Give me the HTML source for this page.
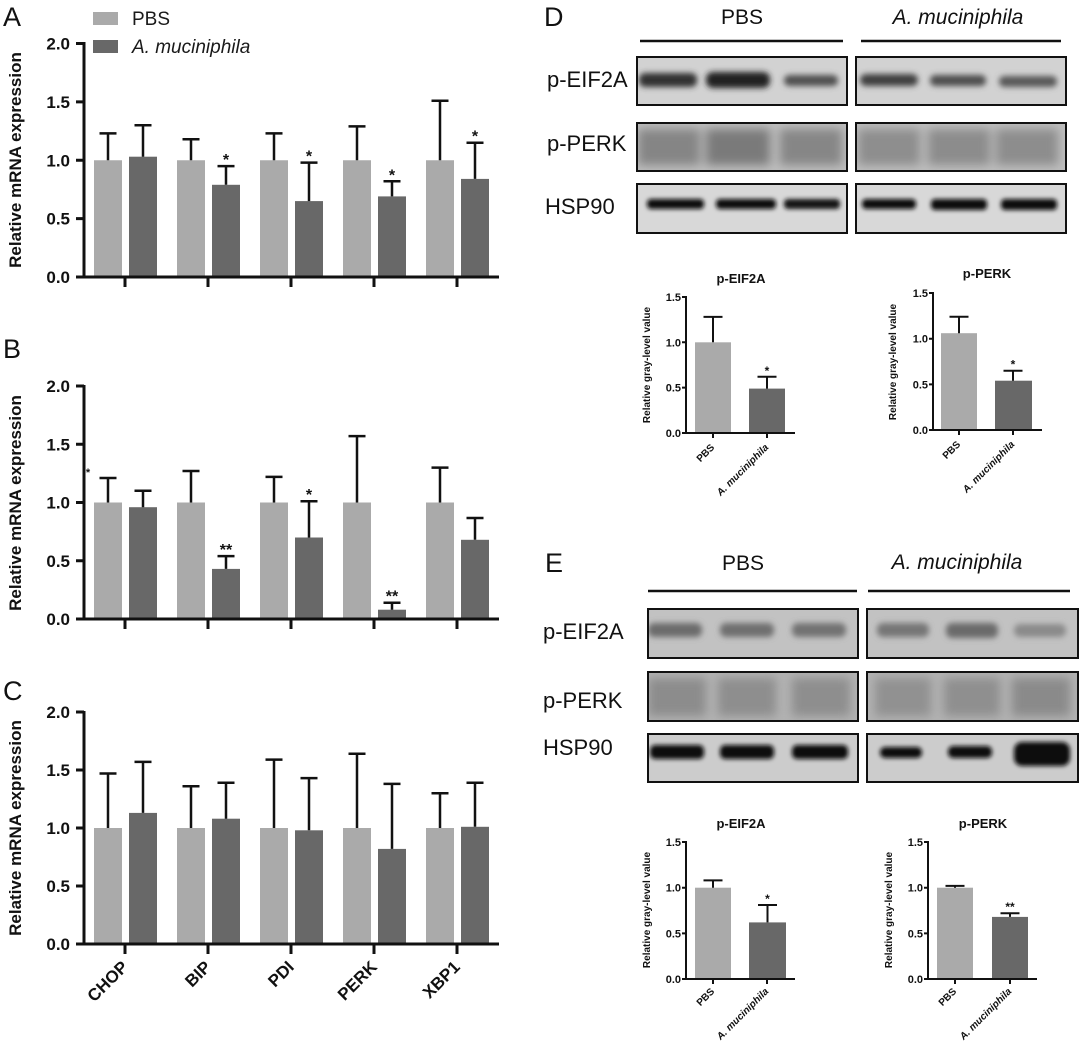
<!DOCTYPE html>
<html><head><meta charset="utf-8"><style>
html,body{margin:0;padding:0;background:#fff;}
svg{display:block;}
text{font-family:"Liberation Sans",Arial,sans-serif;fill:#111;}
.b{font-weight:bold;}
.ax{stroke:#111;stroke-width:3;fill:none;}
.ax2{stroke:#111;stroke-width:2;fill:none;}
.eb{stroke:#111;stroke-width:2.5;fill:none;}
.eb2{stroke:#111;stroke-width:2;fill:none;}
.l{fill:#aaaaaa;}
.d{fill:#686868;}
.box{fill:none;stroke:#111;stroke-width:2;}
</style></head><body>
<svg width="1080" height="1044" viewBox="0 0 1080 1044" xmlns="http://www.w3.org/2000/svg">
<defs>
<filter id="f2" x="-50%" y="-100%" width="200%" height="300%"><feGaussianBlur stdDeviation="2"/></filter>
<filter id="f3" x="-50%" y="-100%" width="200%" height="300%"><feGaussianBlur stdDeviation="3"/></filter>
<filter id="f5" x="-50%" y="-100%" width="200%" height="300%"><feGaussianBlur stdDeviation="5"/></filter>
<clipPath id="cD1L"><rect x="637" y="57" width="210" height="48"/></clipPath>
<clipPath id="cD1R"><rect x="856" y="57" width="210" height="48"/></clipPath>
<clipPath id="cD2L"><rect x="637" y="123" width="210" height="48"/></clipPath>
<clipPath id="cD2R"><rect x="856" y="123" width="210" height="48"/></clipPath>
<clipPath id="cD3L"><rect x="637" y="184" width="210" height="49"/></clipPath>
<clipPath id="cD3R"><rect x="856" y="184" width="210" height="49"/></clipPath>
<clipPath id="cE1L"><rect x="648" y="609" width="210" height="49"/></clipPath>
<clipPath id="cE1R"><rect x="867" y="609" width="211" height="49"/></clipPath>
<clipPath id="cE2L"><rect x="648" y="672" width="210" height="49"/></clipPath>
<clipPath id="cE2R"><rect x="867" y="672" width="211" height="49"/></clipPath>
<clipPath id="cE3L"><rect x="648" y="734" width="210" height="48"/></clipPath>
<clipPath id="cE3R"><rect x="867" y="734" width="211" height="48"/></clipPath>
</defs>

<!-- ================= PANEL A ================= -->
<text x="3" y="26" font-size="27">A</text>
<rect x="93" y="12" width="25" height="13" class="l"/>
<text x="132" y="25" font-size="19" style="fill:#1a1a1a">PBS</text>
<rect x="93" y="40" width="25" height="13" class="d"/>
<text x="132" y="53" font-size="19" font-style="italic" style="fill:#1a1a1a">A. muciniphila</text>
<text class="b" font-size="17" text-anchor="middle" transform="translate(21,160) rotate(-90)">Relative mRNA expression</text>
<g class="b" font-size="17" text-anchor="end">
<text x="70" y="283">0.0</text><text x="70" y="224.6">0.5</text><text x="70" y="166.3">1.0</text><text x="70" y="107.9">1.5</text><text x="70" y="49.5">2.0</text>
</g>
<g>
<rect x="94" y="160.25" width="28" height="116.75" class="l"/><rect x="129" y="156.7" width="28" height="120.3" class="d"/>
<rect x="177" y="160.25" width="28" height="116.75" class="l"/><rect x="212" y="184.8" width="28" height="92.2" class="d"/>
<rect x="260" y="160.25" width="28" height="116.75" class="l"/><rect x="295" y="201.1" width="28" height="75.9" class="d"/>
<rect x="343" y="160.25" width="28" height="116.75" class="l"/><rect x="378" y="196.4" width="28" height="80.6" class="d"/>
<rect x="426" y="160.25" width="28" height="116.75" class="l"/><rect x="461" y="178.9" width="28" height="98.1" class="d"/>
</g>
<path class="eb" d="M108 160.25V133.4M99.5 133.4H116.5 M143 156.7V125.2M134.5 125.2H151.5
M191 160.25V139.2M182.5 139.2H199.5 M226 184.8V166.1M217.5 166.1H234.5
M274 160.25V133.4M265.5 133.4H282.5 M309 201.1V162.6M300.5 162.6H317.5
M357 160.25V126.4M348.5 126.4H365.5 M392 196.4V181.3M383.5 181.3H400.5
M440 160.25V100.7M431.5 100.7H448.5 M475 178.9V142.7M466.5 142.7H483.5"/>
<g class="b" font-size="16" text-anchor="middle">
<text x="226" y="165">*</text><text x="309" y="161.6">*</text><text x="392" y="180.3">*</text><text x="475" y="141.7">*</text>
</g>
<path class="ax" d="M84 42V278 M82 277H499 M76 277H84 M76 218.6H84 M76 160.25H84 M76 101.9H84 M76 43.5H84
M125 277V287 M208 277V287 M291 277V287 M374 277V287 M457 277V287"/>

<!-- ================= PANEL B ================= -->
<text x="3" y="358" font-size="27">B</text>
<text class="b" font-size="17" text-anchor="middle" transform="translate(21,503) rotate(-90)">Relative mRNA expression</text>
<g class="b" font-size="17" text-anchor="end">
<text x="70" y="625">0.0</text><text x="70" y="566.8">0.5</text><text x="70" y="508.5">1.0</text><text x="70" y="450.3">1.5</text><text x="70" y="392">2.0</text>
</g>
<g>
<rect x="94" y="502.5" width="28" height="116.5" class="l"/><rect x="129" y="507.2" width="28" height="111.8" class="d"/>
<rect x="177" y="502.5" width="28" height="116.5" class="l"/><rect x="212" y="568.9" width="28" height="50.1" class="d"/>
<rect x="260" y="502.5" width="28" height="116.5" class="l"/><rect x="295" y="537.5" width="28" height="81.5" class="d"/>
<rect x="343" y="502.5" width="28" height="116.5" class="l"/><rect x="378" y="609.7" width="28" height="9.3" class="d"/>
<rect x="426" y="502.5" width="28" height="116.5" class="l"/><rect x="461" y="539.8" width="28" height="79.2" class="d"/>
</g>
<path class="eb" d="M108 502.5V478M99.5 478H116.5 M143 507.2V490.8M134.5 490.8H151.5
M191 502.5V471M182.5 471H199.5 M226 568.9V556.1M217.5 556.1H234.5
M274 502.5V476.9M265.5 476.9H282.5 M309 537.5V501.3M300.5 501.3H317.5
M357 502.5V436.1M348.5 436.1H365.5 M392 609.7V602.7M383.5 602.7H400.5
M440 502.5V467.6M431.5 467.6H448.5 M475 539.8V518M466.5 518H483.5"/>
<g class="b" font-size="16" text-anchor="middle">
<text x="226" y="555">**</text><text x="309" y="500">*</text><text x="392" y="601.7">**</text>
</g>
<text class="b" x="88" y="476" font-size="11" text-anchor="middle">*</text>
<path class="ax" d="M84 385V620 M82 619H499 M76 619H84 M76 560.75H84 M76 502.5H84 M76 444.25H84 M76 386H84
M125 619V629 M208 619V629 M291 619V629 M374 619V629 M457 619V629"/>

<!-- ================= PANEL C ================= -->
<text x="3" y="700" font-size="27">C</text>
<text class="b" font-size="17" text-anchor="middle" transform="translate(21,828) rotate(-90)">Relative mRNA expression</text>
<g class="b" font-size="17" text-anchor="end">
<text x="70" y="950">0.0</text><text x="70" y="892">0.5</text><text x="70" y="834">1.0</text><text x="70" y="776">1.5</text><text x="70" y="718">2.0</text>
</g>
<g>
<rect x="94" y="828" width="28" height="116" class="l"/><rect x="129" y="812.9" width="28" height="131.1" class="d"/>
<rect x="177" y="828" width="28" height="116" class="l"/><rect x="212" y="818.7" width="28" height="125.3" class="d"/>
<rect x="260" y="828" width="28" height="116" class="l"/><rect x="295" y="830.3" width="28" height="113.7" class="d"/>
<rect x="343" y="828" width="28" height="116" class="l"/><rect x="378" y="848.9" width="28" height="95.1" class="d"/>
<rect x="426" y="828" width="28" height="116" class="l"/><rect x="461" y="826.8" width="28" height="117.2" class="d"/>
</g>
<path class="eb" d="M108 828V773.5M99.5 773.5H116.5 M143 812.9V761.9M134.5 761.9H151.5
M191 828V786.2M182.5 786.2H199.5 M226 818.7V782.8M217.5 782.8H234.5
M274 828V759.6M265.5 759.6H282.5 M309 830.3V778.1M300.5 778.1H317.5
M357 828V753.8M348.5 753.8H365.5 M392 848.9V783.9M383.5 783.9H400.5
M440 828V793.2M431.5 793.2H448.5 M475 826.8V782.8M466.5 782.8H483.5"/>
<path class="ax" d="M84 711V945 M82 944H499 M76 944H84 M76 886H84 M76 828H84 M76 770H84 M76 712H84
M125 944V954 M208 944V954 M291 944V954 M374 944V954 M457 944V954"/>
<g class="b" font-size="17" text-anchor="end">
<text transform="translate(129,968) rotate(-45)">CHOP</text>
<text transform="translate(212,968) rotate(-45)">BIP</text>
<text transform="translate(295,968) rotate(-45)">PDI</text>
<text transform="translate(378,968) rotate(-45)">PERK</text>
<text transform="translate(461,968) rotate(-45)">XBP1</text>
</g>

<!-- ================= PANEL D blots ================= -->
<text x="544" y="26" font-size="27">D</text>
<text x="742" y="24" font-size="21" text-anchor="middle">PBS</text>
<text x="958" y="24" font-size="21" text-anchor="middle" font-style="italic">A. muciniphila</text>
<path stroke="#111" stroke-width="2.5" d="M640 41H843 M861 41H1061"/>
<g font-size="22">
<text x="547" y="87">p-EIF2A</text>
<text x="547" y="151">p-PERK</text>
<text x="545" y="214">HSP90</text>
</g>
<!-- row1 -->
<rect x="637" y="57" width="210" height="48" fill="#d2d2d2"/>
<g clip-path="url(#cD1L)" filter="url(#f3)">
<rect x="639" y="73" width="58" height="14" rx="6" fill="#333"/>
<rect x="706" y="72" width="64" height="16" rx="7" fill="#222"/>
<rect x="784" y="75" width="54" height="11" rx="5" fill="#505050"/>
</g>
<rect x="856" y="57" width="210" height="48" fill="#d2d2d2"/>
<g clip-path="url(#cD1R)" filter="url(#f3)">
<rect x="860" y="74" width="58" height="12" rx="6" fill="#404040"/>
<rect x="930" y="75" width="56" height="11" rx="5" fill="#4d4d4d"/>
<rect x="999" y="76" width="58" height="11" rx="5" fill="#585858"/>
</g>
<!-- row2 -->
<rect x="637" y="123" width="210" height="48" fill="#bebebe"/>
<g clip-path="url(#cD2L)" filter="url(#f5)">
<rect x="638" y="129" width="62" height="36" fill="#858585"/>
<rect x="706" y="129" width="64" height="36" fill="#7a7a7a"/>
<rect x="780" y="129" width="62" height="36" fill="#868686"/>
</g>
<rect x="856" y="123" width="210" height="48" fill="#bebebe"/>
<g clip-path="url(#cD2R)" filter="url(#f5)">
<rect x="858" y="129" width="62" height="36" fill="#8e8e8e"/>
<rect x="928" y="129" width="62" height="36" fill="#8c8c8c"/>
<rect x="996" y="129" width="62" height="36" fill="#8d8d8d"/>
</g>
<!-- row3 -->
<rect x="637" y="184" width="210" height="49" fill="#d8d8d8"/>
<g clip-path="url(#cD3L)" filter="url(#f2)">
<rect x="647" y="199" width="57" height="10" rx="4" fill="#111"/>
<rect x="716" y="199" width="60" height="10" rx="4" fill="#111"/>
<rect x="784" y="199" width="56" height="10" rx="4" fill="#151515"/>
</g>
<rect x="856" y="184" width="210" height="49" fill="#d8d8d8"/>
<g clip-path="url(#cD3R)" filter="url(#f2)">
<rect x="862" y="199" width="54" height="10" rx="4" fill="#111"/>
<rect x="931" y="199" width="56" height="11" rx="4" fill="#111"/>
<rect x="1001" y="199" width="56" height="11" rx="4" fill="#111"/>
</g>
<g class="box">
<rect x="637" y="57" width="210" height="48"/><rect x="856" y="57" width="210" height="48"/>
<rect x="637" y="123" width="210" height="48"/><rect x="856" y="123" width="210" height="48"/>
<rect x="637" y="184" width="210" height="49"/><rect x="856" y="184" width="210" height="49"/>
</g>

<!-- ================= PANEL D charts ================= -->
<text class="b" x="741" y="283" font-size="13" text-anchor="middle">p-EIF2A</text>
<text class="b" font-size="10" text-anchor="middle" transform="translate(650,365) rotate(-90)">Relative gray-level value</text>
<g class="b" font-size="11" text-anchor="end">
<text x="681" y="437">0.0</text><text x="681" y="391.6">0.5</text><text x="681" y="346.3">1.0</text><text x="681" y="301">1.5</text>
</g>
<rect x="695" y="342.3" width="36" height="90.7" class="l"/>
<rect x="749" y="388.6" width="36" height="44.4" class="d"/>
<path class="eb2" d="M713 342.3V316.9M703.5 316.9H722.5 M767 388.6V376.8M757.5 376.8H776.5"/>
<text class="b" x="767" y="375" font-size="12" text-anchor="middle">*</text>
<path class="ax2" d="M686 296V434 M685 433H795 M682 433H686 M682 387.65H686 M682 342.3H686 M682 297H686 M713 433V438 M767 433V438"/>
<g class="b" font-size="10" text-anchor="end">
<text transform="translate(715,448) rotate(-45)">PBS</text>
<text transform="translate(769,448) rotate(-45)" font-style="italic">A. muciniphila</text>
</g>
<text class="b" x="987" y="278" font-size="13" text-anchor="middle">p-PERK</text>
<text class="b" font-size="10" text-anchor="middle" transform="translate(896,362) rotate(-90)">Relative gray-level value</text>
<g class="b" font-size="11" text-anchor="end">
<text x="928" y="434">0.0</text><text x="928" y="388.4">0.5</text><text x="928" y="342.7">1.0</text><text x="928" y="297">1.5</text>
</g>
<rect x="941" y="333.2" width="36" height="96.8" class="l"/>
<rect x="995" y="380.7" width="37" height="49.3" class="d"/>
<path class="eb2" d="M959 333.2V316.8M949.5 316.8H968.5 M1013 380.7V370.7M1003.5 370.7H1022.5"/>
<text class="b" x="1013" y="368.7" font-size="12" text-anchor="middle">*</text>
<path class="ax2" d="M933 292V431 M932 430H1042 M929 430H933 M929 384.35H933 M929 338.7H933 M929 293H933 M959 430V435 M1013 430V435"/>
<g class="b" font-size="10" text-anchor="end">
<text transform="translate(961,445) rotate(-45)">PBS</text>
<text transform="translate(1015,445) rotate(-45)" font-style="italic">A. muciniphila</text>
</g>

<!-- ================= PANEL E blots ================= -->
<text x="545" y="572" font-size="27">E</text>
<text x="743" y="570" font-size="21" text-anchor="middle">PBS</text>
<text x="957" y="569" font-size="21" text-anchor="middle" font-style="italic">A. muciniphila</text>
<path stroke="#111" stroke-width="2.5" d="M648 591H857 M868 591H1070"/>
<g font-size="22">
<text x="543" y="639">p-EIF2A</text>
<text x="543" y="708">p-PERK</text>
<text x="543" y="755">HSP90</text>
</g>
<rect x="648" y="609" width="210" height="49" fill="#c2c2c2"/>
<g clip-path="url(#cE1L)" filter="url(#f3)">
<rect x="648" y="623" width="54" height="14" rx="6" fill="#6c6c6c"/>
<rect x="720" y="623" width="54" height="14" rx="6" fill="#707070"/>
<rect x="792" y="623" width="54" height="14" rx="6" fill="#727272"/>
</g>
<rect x="867" y="609" width="211" height="49" fill="#c2c2c2"/>
<g clip-path="url(#cE1R)" filter="url(#f3)">
<rect x="877" y="623" width="52" height="14" rx="6" fill="#767676"/>
<rect x="946" y="623" width="52" height="15" rx="6" fill="#6a6a6a"/>
<rect x="1014" y="624" width="52" height="13" rx="6" fill="#8a8a8a"/>
</g>
<rect x="648" y="672" width="210" height="49" fill="#b2b2b2"/>
<g clip-path="url(#cE2L)" filter="url(#f5)">
<rect x="648" y="678" width="58" height="38" fill="#8c8c8c"/>
<rect x="718" y="678" width="58" height="38" fill="#8e8e8e"/>
<rect x="792" y="678" width="58" height="38" fill="#8e8e8e"/>
</g>
<rect x="867" y="672" width="211" height="49" fill="#b2b2b2"/>
<g clip-path="url(#cE2R)" filter="url(#f5)">
<rect x="875" y="678" width="56" height="38" fill="#919191"/>
<rect x="944" y="678" width="56" height="38" fill="#8f8f8f"/>
<rect x="1012" y="678" width="58" height="38" fill="#8a8a8a"/>
</g>
<rect x="648" y="734" width="210" height="48" fill="#cccccc"/>
<g clip-path="url(#cE3L)" filter="url(#f2)">
<rect x="650" y="745" width="54" height="14" rx="5" fill="#111"/>
<rect x="720" y="745" width="54" height="14" rx="5" fill="#111"/>
<rect x="792" y="745" width="56" height="14" rx="5" fill="#111"/>
</g>
<rect x="867" y="734" width="211" height="48" fill="#cccccc"/>
<g clip-path="url(#cE3R)" filter="url(#f2)">
<rect x="880" y="747" width="42" height="11" rx="5" fill="#111"/>
<rect x="948" y="746" width="44" height="12" rx="5" fill="#111"/>
<rect x="1014" y="742" width="56" height="24" rx="8" fill="#0a0a0a"/>
</g>
<g class="box">
<rect x="648" y="609" width="210" height="49"/><rect x="867" y="609" width="211" height="49"/>
<rect x="648" y="672" width="210" height="49"/><rect x="867" y="672" width="211" height="49"/>
<rect x="648" y="734" width="210" height="48"/><rect x="867" y="734" width="211" height="48"/>
</g>

<!-- ================= PANEL E charts ================= -->
<text class="b" x="741" y="828" font-size="13" text-anchor="middle">p-EIF2A</text>
<text class="b" font-size="10" text-anchor="middle" transform="translate(650,910) rotate(-90)">Relative gray-level value</text>
<g class="b" font-size="11" text-anchor="end">
<text x="681" y="983">0.0</text><text x="681" y="937.4">0.5</text><text x="681" y="891.7">1.0</text><text x="681" y="846">1.5</text>
</g>
<rect x="695" y="887.7" width="36" height="91.3" class="l"/>
<rect x="749" y="922.4" width="37" height="56.6" class="d"/>
<path class="eb2" d="M713 887.7V880.4M703.5 880.4H722.5 M767.5 922.4V905M758 905H777"/>
<text class="b" x="767.5" y="903" font-size="12" text-anchor="middle">*</text>
<path class="ax2" d="M686 841V980 M685 979H795 M682 979H686 M682 933.35H686 M682 887.7H686 M682 842H686 M713 979V984 M767 979V984"/>
<g class="b" font-size="10" text-anchor="end">
<text transform="translate(715,992) rotate(-45)">PBS</text>
<text transform="translate(769,992) rotate(-45)" font-style="italic">A. muciniphila</text>
</g>
<text class="b" x="983" y="828" font-size="13" text-anchor="middle">p-PERK</text>
<text class="b" font-size="10" text-anchor="middle" transform="translate(892,910) rotate(-90)">Relative gray-level value</text>
<g class="b" font-size="11" text-anchor="end">
<text x="923" y="983">0.0</text><text x="923" y="937.4">0.5</text><text x="923" y="891.7">1.0</text><text x="923" y="846">1.5</text>
</g>
<rect x="937" y="887.7" width="36" height="91.3" class="l"/>
<rect x="992" y="916.9" width="36" height="62.1" class="d"/>
<path class="eb2" d="M955 887.7V885.9M945.5 885.9H964.5 M1010 916.9V913.3M1000.5 913.3H1019.5"/>
<text class="b" x="1010" y="911" font-size="12" text-anchor="middle">**</text>
<path class="ax2" d="M928 841V980 M927 979H1037 M924 979H928 M924 933.35H928 M924 887.7H928 M924 842H928 M955 979V984 M1010 979V984"/>
<g class="b" font-size="10" text-anchor="end">
<text transform="translate(957,992) rotate(-45)">PBS</text>
<text transform="translate(1012,992) rotate(-45)" font-style="italic">A. muciniphila</text>
</g>
</svg>
</body></html>
